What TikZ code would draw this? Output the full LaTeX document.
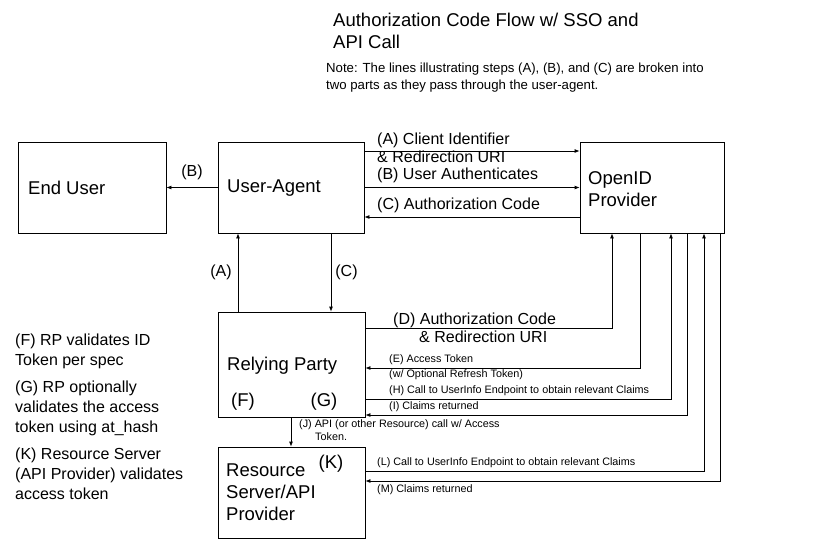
\documentclass[tikz,border=0pt]{standalone}
\usepackage{fontspec}
\setmainfont{Liberation Sans}
\usetikzlibrary{positioning,arrows.meta}
\begin{document}
\begin{tikzpicture}[x=1pt,y=-1pt,
  box/.style={draw,line width=0.8pt,inner sep=0pt},
  big/.style={inner sep=0pt,font=\fontsize{18.5}{22}\selectfont},
  mid/.style={inner sep=0pt,font=\fontsize{16}{18}\selectfont},
  tiny/.style={inner sep=0pt,font=\fontsize{10.8}{13}\selectfont},
  flow/.style={-{Latex[length=5pt,width=4pt]},line width=0.8pt}]
  \useasboundingbox (0,0) rectangle (832,547);
  % boxes
  \node[box,minimum width=148pt,minimum height=91pt] (eu) at (92,187.5) {};
  \node[big,anchor=west] at (28,188) {End User};
  \node[box,minimum width=146pt,minimum height=91pt] (ua) at (291,187.5) {};
  \node[big,anchor=west] at (227,188) {User-Agent};
  \node[box,minimum width=144pt,minimum height=91pt] (op) at (652,187.5) {};
  \node[big,anchor=west,align=left] at (588,189) {OpenID\\Provider};
  \node[box,minimum width=147pt,minimum height=105pt] (rp) at (291.5,364.5) {};
  \node[big,anchor=west] at (227,366) {Relying Party};
  \node[big] at (243,402) {(F)};
  \node[big] at (324,402) {(G)};
  \node[box,minimum width=147pt,minimum height=91pt] (rs) at (291.5,492.5) {};
  \node[big,anchor=west,align=left] at (226,492) {Resource\\Server/API\\Provider};
  \node[big] at (331,464) {(K)};
  % title and notes
  \node[big,anchor=west,align=left] at (333,31) {Authorization Code Flow w/ SSO and\\API Call};
  \node[tiny,anchor=west,align=left,font=\fontsize{13.2}{17}\selectfont] at (326,78)
    {Note: The lines illustrating steps (A), (B), and (C) are broken into\\two parts as they pass through the user-agent.};
  \node[mid,anchor=north west,align=left,font=\fontsize{16}{20}\selectfont] at (15,334)
    {(F) RP validates ID\\Token per spec\\[7pt](G) RP optionally\\validates the access\\token using at\_hash\\[7pt](K) Resource Server\\(API Provider) validates\\access token};
  % user-agent <-> end user
  \draw[flow] (ua.west) -- (eu.east) node[midway,above,mid,yshift=7pt] {(B)};
  % user-agent <-> openid provider
  \draw[flow] ([yshift=36.5pt]ua.east) -- ([yshift=36.5pt]op.west);
  \node[mid,anchor=west,align=left] at (377,148) {(A) Client Identifier\\\& Redirection URI};
  \draw[flow] (ua.east) -- (op.west);
  \node[mid,anchor=south west] at (377,183) {(B) User Authenticates};
  \draw[flow] ([yshift=-29.5pt]op.west) -- ([yshift=-29.5pt]ua.east);
  \node[mid,anchor=south west] at (377,213) {(C) Authorization Code};
  % relying party <-> user-agent
  \draw[flow] (rp.north -| 238,0) -- (ua.south -| 238,0) node[midway,left,mid,xshift=-6pt] {(A)};
  \draw[flow] (ua.south -| 331,0) -- (rp.north -| 331,0) node[midway,right,mid,xshift=4pt] {(C)};
  % relying party <-> openid provider
  \coordinate (d) at (612,328);
  \draw[flow] (rp.east |- d) -- (d) -- (op.south -| d);
  \node[mid,anchor=west,align=left] at (393,328) {(D) Authorization Code\\\hspace{26pt}\& Redirection URI};
  \coordinate (e) at (640,368);
  \draw[flow] (op.south -| e) -- (e) -- (rp.east |- e);
  \node[tiny,anchor=south west] at (389,365) {(E) Access Token};
  \node[tiny,anchor=north west] at (389,369) {(w/ Optional Refresh Token)};
  \coordinate (h) at (671,399);
  \draw[flow] (rp.east |- h) -- (h) -- (op.south -| h);
  \node[tiny,anchor=south west] at (389,396) {(H) Call to UserInfo Endpoint to obtain relevant Claims};
  \coordinate (i) at (687,415);
  \draw[flow] (op.south -| i) -- (i) -- (rp.east |- i);
  \node[tiny,anchor=south west] at (389,412) {(I) Claims returned};
  % relying party -> resource server
  \draw[flow] (rp.south -| 291,0) -- (rs.north -| 291,0);
  \node[tiny,anchor=north west,align=left] at (299,419) {(J) API (or other Resource) call w/ Access\\\hspace{16pt}Token.};
  % resource server <-> openid provider
  \coordinate (l) at (704,471);
  \draw[flow] (rs.east |- l) -- (l) -- (op.south -| l);
  \node[tiny,anchor=south west] at (377,468) {(L) Call to UserInfo Endpoint to obtain relevant Claims};
  \coordinate (m) at (720,481);
  \draw[flow] (op.south -| m) -- (m) -- (rs.east |- m);
  \node[tiny,anchor=north west] at (377,484) {(M) Claims returned};
\end{tikzpicture}
\end{document}
